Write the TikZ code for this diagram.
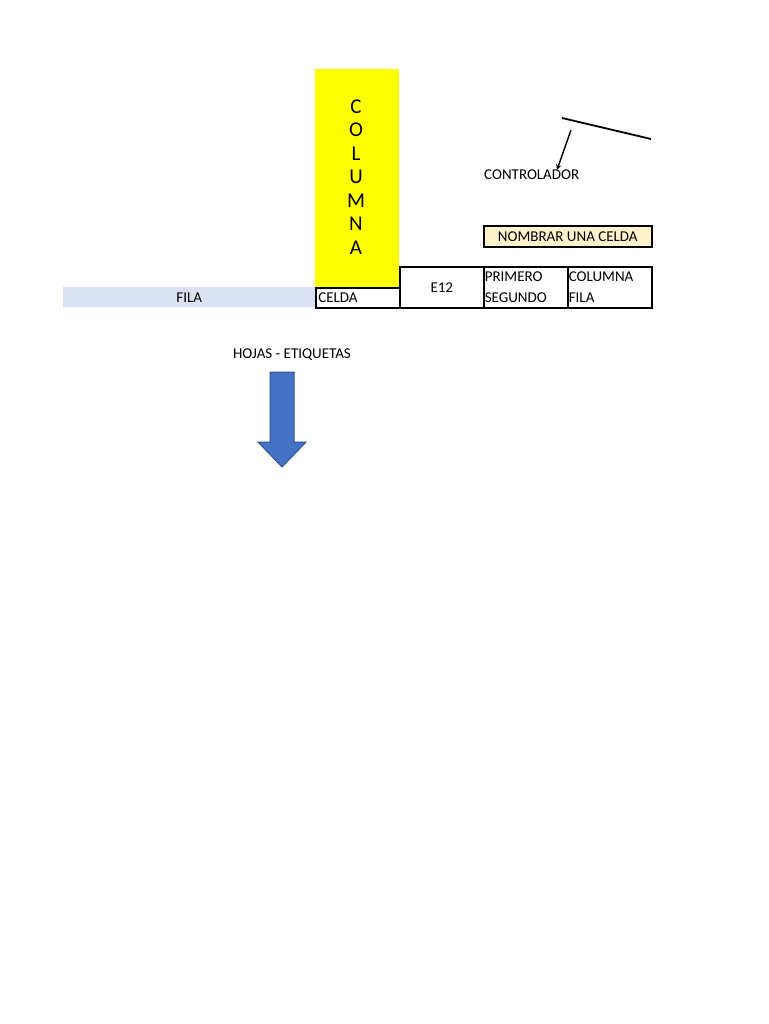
\documentclass[tikz,border=0pt]{standalone}
\usepackage{fontspec}
\setmainfont{Carlito}
\usetikzlibrary{calc,positioning}
\definecolor{amarillo}{HTML}{FFFF00}
\definecolor{azulfila}{HTML}{D9E1F2}
\definecolor{crema}{HTML}{FFF2CC}
\definecolor{azul}{HTML}{4472C4}
\definecolor{azulborde}{HTML}{2F528F}
\newcommand{\Ancho}{84}
\tikzset{Celda/.style={
    inner sep=0pt,
    minimum width=\Ancho,
    minimum height=41,
    draw=black,
    line width=1.6,
    anchor=north west,
    font=\fontsize{15}{21}\selectfont,
    }
}

\begin{document}
\begin{tikzpicture}[x=1pt,y=-1pt,
    txt/.style={inner sep=0pt, font=\fontsize{15}{16}\selectfont},
    celdatxt/.style={Celda, minimum height=20, align=left},
]
\useasboundingbox[fill=white] (0,0) rectangle (768,1024);
% columna amarilla
\fill[amarillo] (315,69) rectangle (399,287);
\node [inner sep=0pt, align=center, font=\fontsize{21}{23.5}\selectfont] (columna) at (356,177)
    {C\\O\\L\\U\\M\\N\\A};
% fila
\node [fill=azulfila, inner sep=0pt, minimum width=252, minimum height=20, anchor=north west,
    font=\fontsize{15}{16}\selectfont] (fila) at (63,287) {\raisebox{-1pt}{FILA}};
\node [celdatxt, text width=\Ancho-3, text depth=0pt] (celda) at (315,287)
    {\hspace{1pt}CELDA};
% tabla
\node [Celda] (e12) at (399,266) {E12};
\node [Celda, align=left, text width=\Ancho-2] (orden) at (483,266)
    {PRIMERO\\SEGUNDO};
\node [Celda, align=left, text width=\Ancho-2] (colfila) at (567,266)
    {COLUMNA\\FILA};
% nombrar una celda
\node [Celda, fill=crema, minimum width=2*\Ancho, minimum height=21] (nombrar) at (483,225)
    {NOMBRAR UNA CELDA};
% controlador
\node [txt, anchor=west] (ctrl) at (484,175) {CONTROLADOR};
\coordinate (lineaA) at (562,118);
\coordinate (lineaB) at (651,139);
\coordinate (flechaA) at (571,130);
\coordinate (flechaB) at ($(ctrl.north west)+(73,0)$);
\draw [line width=1.8] (lineaA) -- (lineaB);
\draw [line width=1.4, -stealth] (flechaA) -- (flechaB);
% hojas
\node [txt] (hojas) at (292,355) {HOJAS - ETIQUETAS};
\draw [draw=azulborde, fill=azul, line width=1]
    (270,372) -- (294,372) -- (294,442) -- (306,442) -- (282,467)
    -- (258,442) -- (270,442) -- cycle;
\end{tikzpicture}
\end{document}
